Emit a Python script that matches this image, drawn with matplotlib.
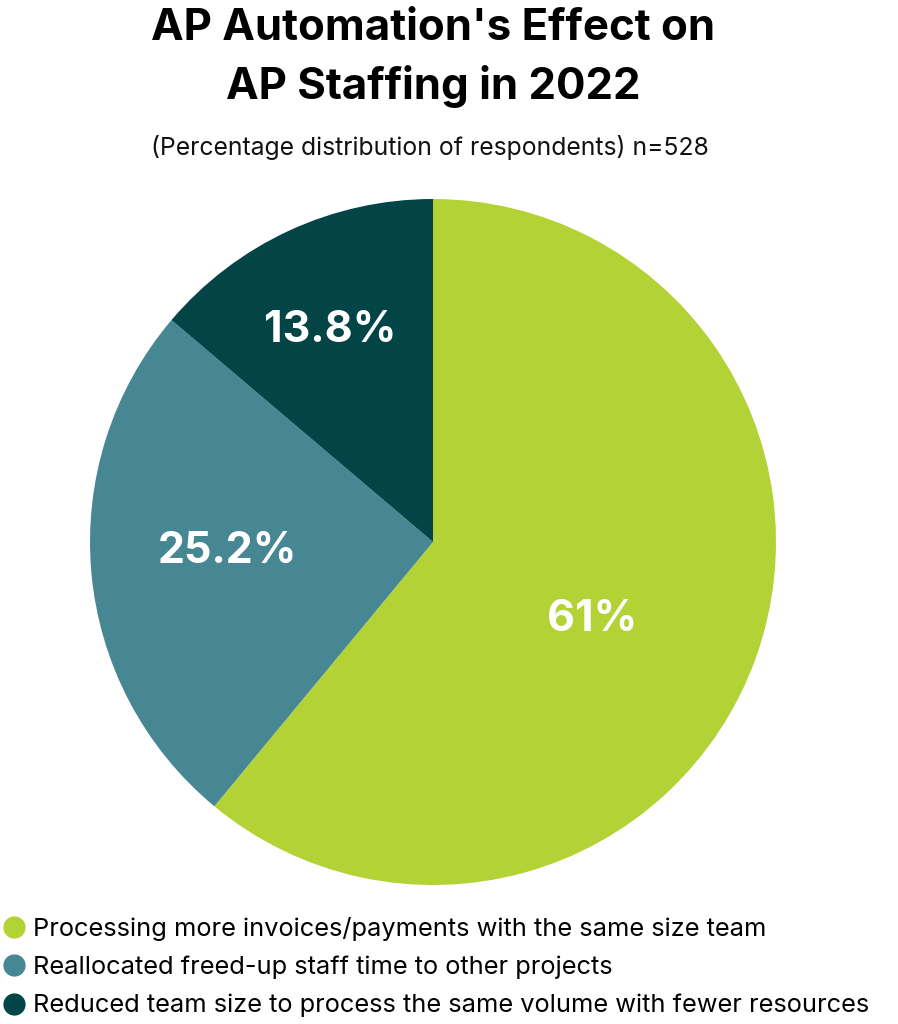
import matplotlib
matplotlib.use("Agg")
import matplotlib.pyplot as plt
import numpy as np
from matplotlib.lines import Line2D

categories = [
    "Processing more invoices/payments with the same size team",
    "Reallocated freed-up staff time to other projects",
    "Reduced team size to process the same volume with fewer resources",
]
values = [61.0, 25.2, 13.8]
value_labels = ["61%", "25.2%", "13.8%"]
colors = ["#B2D235", "#478793", "#034547"]
# label placement: (radial distance, angle offset from wedge middle in degrees)
label_place = [(0.515, -6.3), (0.60, -2.5), (0.685, 1.2)]

plt.rcParams['font.family'] = ['Inter', 'DejaVu Sans']

W, H = 898, 1024
fig = plt.figure(figsize=(W / 100, H / 100), dpi=100)
fig.patch.set_facecolor("white")

cx, cy, r = 433, 542, 343
ax = fig.add_axes([(cx - r) / W, (H - cy - r) / H, 2 * r / W, 2 * r / H])
wedges, _ = ax.pie(values, colors=colors, startangle=90, counterclock=False,
                   radius=1, wedgeprops=dict(linewidth=0))
ax.set_xlim(-1, 1)
ax.set_ylim(-1, 1)
ax.set_aspect("equal")
ax.axis("off")

for w, lab, (d, off) in zip(wedges, value_labels, label_place):
    ang = np.deg2rad((w.theta1 + w.theta2) / 2 + off)
    ax.text(d * np.cos(ang), d * np.sin(ang), lab, ha="center", va="center",
            color="white", fontsize=31, fontweight="bold")

fig.text(433 / W, 1 - 28 / H, "AP Automation's Effect on", ha="center", va="center",
         fontsize=31.5, fontweight="bold", color="black")
fig.text(433 / W, 1 - 86 / H, "AP Staffing in 2022", ha="center", va="center",
         fontsize=31.5, fontweight="bold", color="black")
fig.text(430 / W, 1 - 148 / H, "(Percentage distribution of respondents) n=528",
         ha="center", va="center", fontsize=17.8, color="#111111")

handles = [Line2D([0], [0], marker="o", linestyle="none", markersize=15,
                  markerfacecolor=c, markeredgecolor=c) for c in colors]
fig.legend(handles, categories, loc="upper left", bbox_to_anchor=(-0.006, 1 - 917 / H),
           frameon=False, fontsize=18.3, handletextpad=0.0, labelspacing=0.58,
           borderpad=0, borderaxespad=0, handlelength=1.5)

fig.savefig("out.png", dpi=100, facecolor="white")
